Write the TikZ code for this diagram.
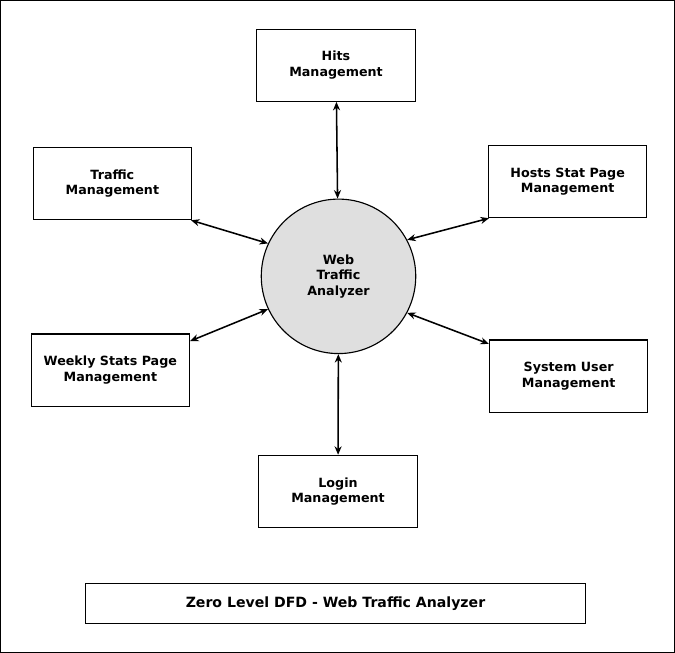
\documentclass[tikz,border=0pt]{standalone}
\usepackage{fontspec}
\setmainfont{DejaVu Sans}
\usetikzlibrary{arrows.meta,positioning}
\begin{document}
\begin{tikzpicture}[x=0.025cm, y=-0.025cm, >={Stealth[length=6pt,width=5pt]},
  box/.style={draw, thick, minimum width=3.95cm, minimum height=1.8cm, align=center, font=\bfseries\small},
  flow/.style={<->, line width=1.1pt}]
% frame
\draw[thick] (0,0) rectangle (672,650);
% process
\node [circle, draw, thick, fill=gray!25, minimum size=3.85cm, align=center, font=\bfseries\small] (web) at (337,275) {Web\\Traffic\\Analyzer};
% entities
\node [box] (hits) at (334.5,64.5) {Hits\\Management};
\node [box] (traffic) at (111.5,182.5) {Traffic\\Management};
\node [box] (hosts) at (565.5,180.5) {Hosts Stat Page\\Management};
\node [box] (weekly) at (109.5,368.5) {Weekly Stats Page\\Management};
\node [box] (system) at (566.5,374.5) {System User\\Management};
\node [box] (login) at (336.5,489.5) {Login\\Management};
% flows
\draw [flow] (hits) -- (web);
\draw [flow] (login) -- (web);
\draw [flow] (traffic.-25) -- (web.155);
\draw [flow] (hosts.-155) -- (web.28);
\draw [flow] (weekly.20) -- (web.205);
\draw [flow] (system.158) -- (web.-28);
% title
\node [draw, thick, minimum width=12.45cm, minimum height=1cm, font=\bfseries] (title) at (334,601) {Zero Level DFD - Web Traffic Analyzer};
\end{tikzpicture}
\end{document}
